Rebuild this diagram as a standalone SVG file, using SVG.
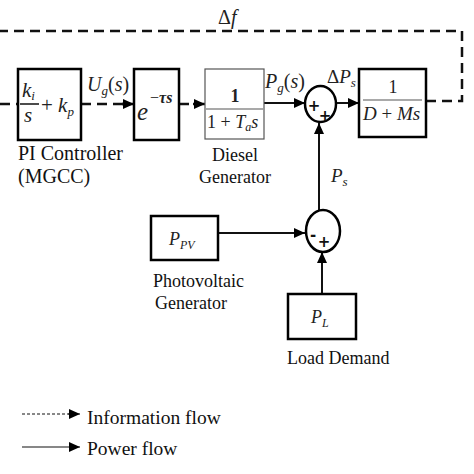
<svg xmlns="http://www.w3.org/2000/svg" width="474" height="474" viewBox="0 0 474 474">
<defs>
<marker id="ah" markerWidth="12" markerHeight="12" refX="11" refY="5" orient="auto" markerUnits="userSpaceOnUse"><path d="M0,0 L11,5 L0,10 Z" fill="#000"/></marker>
<marker id="ahl" markerWidth="12" markerHeight="12" refX="11" refY="5" orient="auto" markerUnits="userSpaceOnUse"><path d="M0,0 L11,5 L0,10 Z" fill="#000"/></marker>
</defs>
<style>
.blk{fill:#fff;stroke:#000;stroke-width:2.5}
.blk2{fill:#fff;stroke:#555;stroke-width:1.2}
.lbl{font-family:"Liberation Serif","Times New Roman",serif;font-size:18px;fill:#111}
.m{font-family:"Liberation Serif","Times New Roman",serif;font-style:italic;font-size:18px;fill:#222}
.up{font-style:normal}
.dash{fill:none;stroke:#111;stroke-width:2.5;stroke-dasharray:10,6}
.pw{fill:none;stroke:#111;stroke-width:2}
.sum{fill:#fff;stroke:#000;stroke-width:2.5}
.sg{font-family:"DejaVu Sans",sans-serif;font-size:15px;fill:#111;font-weight:bold}
</style>
<rect width="474" height="474" fill="#fff"/>

<g id="connectors">
  <path class="dash" d="M426,101 H462 V31 H0"/>
  <path class="dash" d="M0,104 H20"/>
  <path class="dash" d="M81,104 H123" />
  <path d="M122,104 H134" stroke="#111" stroke-width="2.5" marker-end="url(#ah)"/>
  <path class="dash" d="M179,104 H190"/>
  <path d="M193,104 H205" stroke="#111" stroke-width="2.5" marker-end="url(#ah)"/>
  <path class="pw" d="M264,103 H305" marker-end="url(#ah)"/>
  <path class="pw" d="M336,103 H359" marker-end="url(#ah)"/>
  <path class="pw" d="M319,210 V123" marker-end="url(#ah)"/>
  <path class="pw" d="M218,233 H305" marker-end="url(#ah)"/>
  <path class="pw" d="M322,294 V252" marker-end="url(#ah)"/>
  <text class="m" x="218" y="24" style="font-size:20px"><tspan class="up">Δ</tspan>f</text>
  <text class="m" x="87" y="91" style="font-size:20px">U<tspan font-size="13" dy="4">g</tspan><tspan class="up" dy="-4">(</tspan>s<tspan class="up">)</tspan></text>
  <text class="m" x="265" y="88" style="font-size:20px">P<tspan font-size="13" dy="4">g</tspan><tspan class="up" dy="-4">(</tspan>s<tspan class="up">)</tspan></text>
  <text class="m" x="327" y="83" style="font-size:19px"><tspan class="up">Δ</tspan>P<tspan font-size="13" dy="4">s</tspan></text>
  <text class="m" x="331" y="182" style="font-size:19px">P<tspan font-size="13" dy="4">s</tspan></text>
</g>

<g id="pi-controller">
  <rect class="blk" x="18" y="69" width="63" height="71"/>
  <text class="m" x="22" y="97" style="font-size:21px">k<tspan font-size="13" dy="3">i</tspan></text>
  <line x1="20" y1="104" x2="39" y2="104" stroke="#111" stroke-width="1.5"/>
  <text class="m" x="24" y="122" style="font-size:21px">s</text>
  <text class="m" x="41" y="112" style="font-size:21px"><tspan class="up">+ </tspan>k<tspan font-size="13" dy="4">p</tspan></text>
  <text class="lbl" x="18" y="160" style="font-size:20px">PI Controller</text>
  <text class="lbl" x="18" y="183" style="font-size:20px">(MGCC)</text>
</g>

<g id="delay">
  <rect class="blk" x="134" y="69" width="45" height="71"/>
  <text class="m" x="137" y="120" style="font-size:25px">e</text>
  <text class="m" x="150" y="103" style="font-size:16px;font-weight:bold"><tspan class="up" font-weight="normal">−</tspan>τs</text>
</g>

<g id="diesel">
  <rect class="blk2" x="205" y="69" width="59" height="70"/>
  <line x1="206" y1="109" x2="263" y2="109" stroke="#555" stroke-width="1.2"/>
  <text class="m up" x="235" y="102" text-anchor="middle" font-weight="bold">1</text>
  <text class="m" x="207" y="128"><tspan class="up">1 + </tspan>T<tspan font-size="12" dy="3">a</tspan><tspan dy="-3">s</tspan></text>
  <text class="lbl" x="235" y="161" text-anchor="middle">Diesel</text>
  <text class="lbl" x="235" y="183" text-anchor="middle">Generator</text>
</g>

<g id="sum1">
  <ellipse class="sum" cx="320.5" cy="104" rx="15.5" ry="18"/>
  <text class="sg" x="314" y="111" text-anchor="middle">+</text>
  <text class="sg" x="325" y="121" text-anchor="middle">+</text>
</g>

<g id="plant">
  <rect class="blk" x="359" y="69" width="67" height="68"/>
  <line x1="363" y1="100" x2="422" y2="100" stroke="#555" stroke-width="1.2"/>
  <text class="m up" x="393" y="93" text-anchor="middle">1</text>
  <text class="m" x="363" y="120" style="font-size:19px">D<tspan class="up"> + </tspan>Ms</text>
</g>

<g id="sum2">
  <ellipse class="sum" cx="323" cy="231" rx="17" ry="21"/>
  <text class="sg" x="313" y="240" text-anchor="middle">-</text>
  <text class="sg" x="324" y="247" text-anchor="middle">+</text>
</g>

<g id="pv">
  <rect class="blk" x="151" y="216" width="67" height="44"/>
  <text class="m" x="169" y="245">P<tspan font-size="12" dy="4">PV</tspan></text>
  <text class="lbl" x="153" y="287">Photovoltaic</text>
  <text class="lbl" x="155" y="309">Generator</text>
</g>

<g id="load">
  <rect class="blk" x="288" y="294" width="68" height="45"/>
  <text class="m" x="311" y="323">P<tspan font-size="12" dy="4">L</tspan></text>
  <text class="lbl" x="287" y="364">Load Demand</text>
</g>

<g id="legend">
  <path d="M22,414 H70" stroke="#111" stroke-width="1" stroke-dasharray="3,2" fill="none"/>
  <path d="M68,414 H80" stroke="#111" stroke-width="1" marker-end="url(#ahl)"/>
  <text class="lbl" x="87" y="424" style="font-size:19.5px">Information flow</text>
  <path d="M22,447 H80" stroke="#111" stroke-width="1.2" marker-end="url(#ahl)"/>
  <text class="lbl" x="87" y="455" style="font-size:19.5px">Power flow</text>
</g>
</svg>
